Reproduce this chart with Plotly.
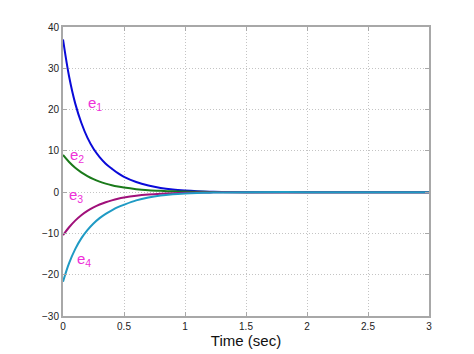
import plotly.graph_objects as go

t = [0, 0.05, 0.1, 0.15, 0.2, 0.25, 0.3, 0.35, 0.4, 0.45, 0.5, 0.6, 0.7, 0.8, 0.9, 1.0, 1.1, 1.2, 1.3, 1.5, 2.0, 2.5, 3.0]
e1 = [37, 28, 21.5, 16.8, 13.2, 10.5, 8.5, 6.9, 5.7, 4.6, 3.7, 2.45, 1.6, 1.0, 0.62, 0.38, 0.22, 0.12, 0.06, 0, 0, 0, 0]
e2 = [9.0, 7.3, 5.9, 4.8, 3.9, 3.15, 2.55, 2.07, 1.68, 1.36, 1.1, 0.72, 0.47, 0.31, 0.2, 0.13, 0.085, 0.055, 0.035, 0, 0, 0, 0]
e3 = [-10.4, -8.5, -6.9, -5.6, -4.55, -3.7, -3.0, -2.45, -2.0, -1.62, -1.32, -0.87, -0.57, -0.37, -0.24, -0.16, -0.1, -0.065, -0.04, 0, 0, 0, 0]
e4 = [-21.7, -17.2, -13.8, -11.2, -9.2, -7.6, -6.3, -5.25, -4.4, -3.65, -3.05, -2.0, -1.3, -0.82, -0.52, -0.33, -0.2, -0.12, -0.07, 0, 0, 0, 0]

series = [("e1", e1, "#0a0ad8"), ("e2", e2, "#1a7a1a"), ("e3", e3, "#a0107a"), ("e4", e4, "#1f9ac4")]

labels = ["e<sub>1</sub>", "e<sub>2</sub>", "e<sub>3</sub>", "e<sub>4</sub>"]
label_x = [0.185, 0.04, 0.03, 0.1]
label_y = [21.5, 8.8, -0.8, -16.4]

fig = go.Figure()
for name, ys, col in series:
    fig.add_trace(go.Scatter(x=t, y=ys, mode="lines", name=name,
                             line=dict(color=col, width=2, shape="spline", smoothing=1)))

for txt, lx, ly in zip(labels, label_x, label_y):
    fig.add_annotation(x=lx, y=ly, text=txt, showarrow=False, xanchor="left", yanchor="middle",
                       font=dict(family="Arial, Liberation Sans", size=15, color="#ee30d8"))

axis_common = dict(showline=True, mirror="ticks", linecolor="#a8a8a8", linewidth=2,
                   showgrid=True, gridcolor="#c4c4c4", griddash="1px,2px", gridwidth=1,
                   ticks="inside", ticklen=4, tickcolor="#a8a8a8", zeroline=False,
                   tickfont=dict(family="Arial, Liberation Sans", size=10, color="#222"))

fig.update_layout(
    width=474, height=354,
    margin=dict(l=63, r=45, t=27, b=38),
    paper_bgcolor="white", plot_bgcolor="white",
    showlegend=False,
    xaxis=dict(range=[0, 3], tickvals=[0, 0.5, 1, 1.5, 2, 2.5, 3],
               ticktext=["0", "0.5", "1", "1.5", "2", "2.5", "3"],
               title=dict(text="Time (sec)", standoff=0,
                          font=dict(family="Arial, Liberation Sans", size=15, color="#111")),
               **axis_common),
    yaxis=dict(range=[-30, 40], tickvals=[-30, -20, -10, 0, 10, 20, 30, 40], **axis_common),
)

fig.write_html("out.html")
